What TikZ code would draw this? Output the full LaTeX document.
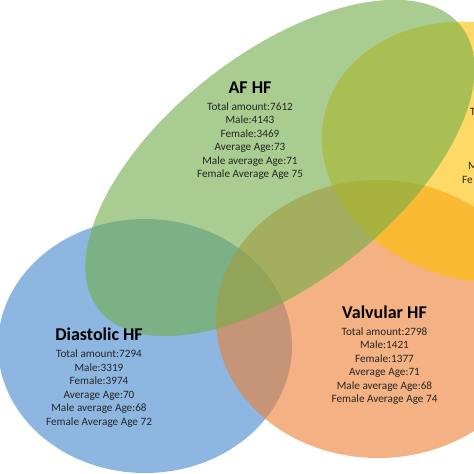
\documentclass[tikz,border=0pt]{standalone}
\usepackage{fontspec}
\setmainfont{Carlito}
\usepackage{tikz}
\usetikzlibrary{positioning}
\definecolor{afgreen}{RGB}{112,173,71}
\definecolor{diablue}{RGB}{80,145,210}
\definecolor{valorange}{RGB}{237,125,49}
\definecolor{setyellow}{RGB}{255,192,0}

\begin{document}
\begin{tikzpicture}[x=1pt, y=1pt,
    setfill/.style={fill opacity=0.6},
    titletext/.style={font=\fontsize{18}{21}\selectfont\bfseries, inner sep=0pt, text=black},
    infotext/.style={font=\fontsize{11.2}{13.5}\selectfont, align=center, inner sep=0pt, text=black!85},
    cuttext/.style={font=\fontsize{11.2}{13.5}\selectfont, inner sep=0pt, anchor=base west, text=black!85}
  ]
    \useasboundingbox (0,0) rectangle (474,474);
    \clip (0,0) rectangle (474,474);
    \fill[white] (0,0) rectangle (474,474);

    \coordinate (diaC) at (145,128);
    \coordinate (valC) at (378,155);
    \coordinate (yelC) at (478,322);
    \coordinate (afC) at (280,306);

    % sets, back to front
    \fill[diablue, fill opacity=0.65] (diaC) ellipse [x radius=147pt, y radius=127pt];
    \fill[valorange, setfill] (valC) ellipse [x radius=162pt, y radius=139pt];
    \fill[setyellow, setfill, rotate around={-15:(yelC)}] (yelC) ellipse [x radius=158pt, y radius=128pt];
    \fill[afgreen, setfill, rotate around={38:(afC)}] (afC) ellipse [x radius=230pt, y radius=115pt];

    \node[titletext] (aftitle) at (250,386.5) {AF HF};
    \node[infotext] (afinfo) at (250,333) {Total amount:7612\\Male:4143\\Female:3469\\Average Age:73\\Male average Age:71\\Female Average Age 75};

    \node[titletext] (diatitle) at (99,140) {Diastolic HF};
    \node[infotext] (diainfo) at (99,85.5) {Total amount:7294\\Male:3319\\Female:3974\\Average Age:70\\Male average Age:68\\Female Average Age 72};

    \node[titletext] (valtitle) at (384.5,161.5) {Valvular HF};
    \node[infotext] (valinfo) at (384.5,108) {Total amount:2798\\Male:1421\\Female:1377\\Average Age:71\\Male average Age:68\\Female Average Age 74};

    \node[cuttext] (yelT) at (470,358) {T};
    \node[cuttext] (yelM) at (468,304) {M};
    \node[cuttext] (yelFe) at (462,290) {Fe};
  \end{tikzpicture}
\end{document}
